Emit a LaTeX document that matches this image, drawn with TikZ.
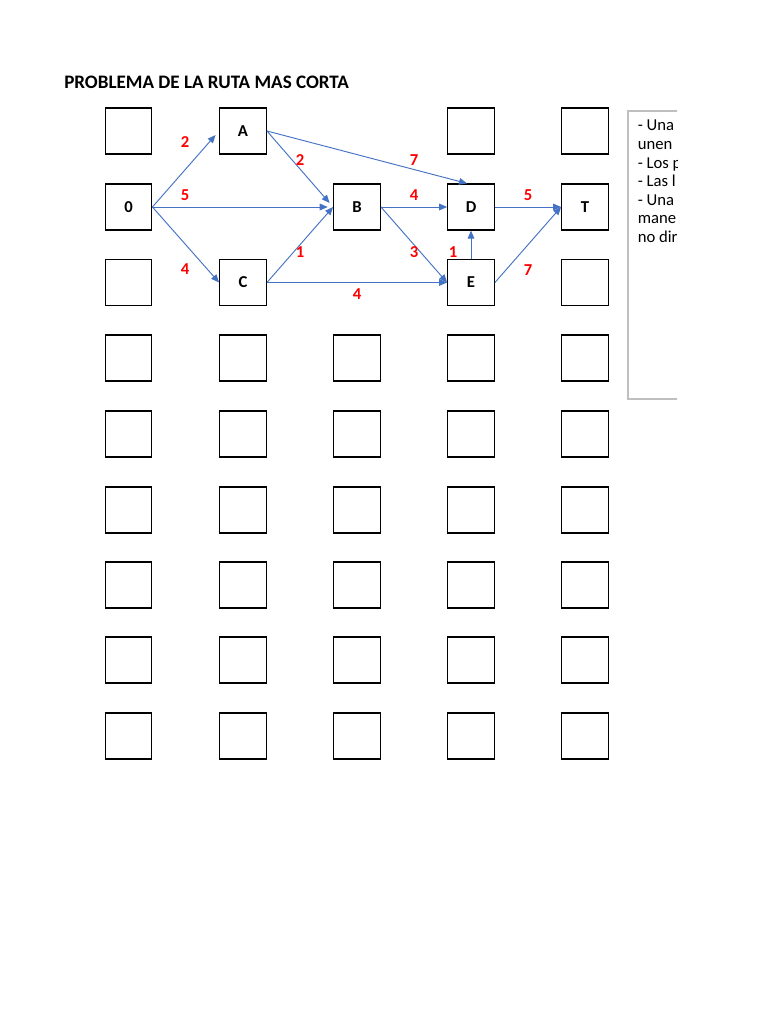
\documentclass[tikz,border=0pt]{standalone}
\usepackage{fontspec}
\setmainfont{Carlito}
\usetikzlibrary{arrows.meta}
\definecolor{linkblue}{HTML}{4472C4}
\definecolor{notegray}{HTML}{BFBFBF}
\tikzset{
  cell/.style={rectangle, draw, line width=0.9pt, minimum width=35pt, minimum height=34.5pt, inner sep=0pt, font=\fontsize{12.5}{15}\selectfont\bfseries},
  link/.style={draw=linkblue, line width=0.7pt, -{Triangle[length=6pt, width=5pt]}},
  cost/.style={text=red, font=\fontsize{12.5}{15}\selectfont\bfseries}
}
\begin{document}
\begin{tikzpicture}[x=0.75pt, y=-0.75pt]
  \useasboundingbox[fill=white] (0,0) rectangle (768,1024);
  \node (title) [anchor=west, inner sep=0pt, font=\fontsize{14.3}{17}\selectfont\bfseries] at (64,82) {PROBLEMA DE LA RUTA MAS CORTA};
  % empty cells
  \foreach \x/\y in {128.5/131, 471/131, 585/131, 128.5/282.5, 585/282.5}
    \node [cell] at (\x,\y) {};
  \foreach \y in {358, 434, 510, 585, 660, 736}
    \foreach \x in {128.5, 243, 357, 471, 585}
      \node [cell] at (\x,\y) {};
  % network
  \node (o) [cell] at (128.5, 207) {0};
  \node (A) [cell] at (243, 131) {A};
  \node (B) [cell] at (357, 207) {B};
  \node (C) [cell] at (243, 282.5) {C};
  \node (D) [cell] at (471, 207) {D};
  \node (E) [cell] at (471, 282.5) {E};
  \node (T) [cell] at (585, 207) {T};
  \draw [link, shorten >=4pt] (o.east) -- (A.west);
  \draw [link, shorten >=4pt] (o.east) -- (B.west);
  \draw [link] (o.east) -- (C.west);
  \draw [link, shorten >=4pt] (A.east) -- (B.west);
  \draw [link] (A.east) -- ([xshift=-3pt]D.north);
  \draw [link] (C.east) -- (B.west);
  \draw [link] (C.east) -- (E.west);
  \draw [link] (B.east) -- (D.west);
  \draw [link] (B.east) -- (E.west);
  \draw [link] (E.north) -- (D.south);
  \draw [link] (D.east) -- (T.west);
  \draw [link] (E.east) -- (T.west);
  \node [cost] at (185, 142) {2};
  \node [cost] at (185, 195) {5};
  \node [cost] at (185, 269) {4};
  \node [cost] at (300, 160) {2};
  \node [cost] at (300, 252) {1};
  \node [cost] at (357, 294) {4};
  \node [cost] at (414, 160) {7};
  \node [cost] at (414, 195) {4};
  \node [cost] at (414, 252) {3};
  \node [cost] at (453, 252) {1};
  \node [cost] at (528, 195) {5};
  \node [cost] at (528, 270) {7};
  % note box, cut at the right
  \begin{scope}
    \clip (620,100) rectangle (677,410);
    \draw [notegray, line width=0.8pt] (628,111) rectangle (720,399);
    \node (note) [anchor=north west, align=left, inner sep=0pt, font=\fontsize{12.5}{13.9}\selectfont] at (637.5,120)
      {- Una\\unen\\- Los p\\- Las l\\- Una\\mane\\no dir};
  \end{scope}
\end{tikzpicture}
\end{document}
